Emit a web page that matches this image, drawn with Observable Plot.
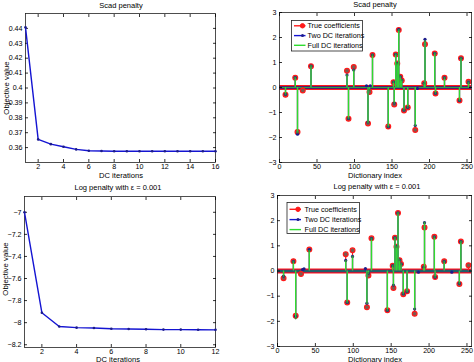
<!DOCTYPE html>
<html><head><meta charset="utf-8">
<script src="https://cdn.jsdelivr.net/npm/d3@7"></script>
<script src="https://cdn.jsdelivr.net/npm/@observablehq/plot@0.6"></script>
<style>
body{margin:0;background:#fff;}
#root{position:relative;width:474px;height:362px;overflow:hidden;font-family:"Liberation Sans",Arial,Helvetica,sans-serif;background:#fff;}
.panel{position:absolute;}
#overlay{position:absolute;left:0;top:0;}
</style></head><body><div id="root"></div>
<script>
// ---------- data ----------
const scadIter = [1,2,3,4,5,6,7,8,9,10,11,12,13,14,15,16];
const scadObjective = [0.4407,0.3655,0.3623,0.3606,0.3588,0.3579,0.3577,0.3576,0.3576,0.3576,0.3576,0.3576,0.3576,0.3576,0.3576,0.3576];
const logIter = [1,2,3,4,5,6,7,8,9,10,11,12];
const logObjective = [-7.0,-7.91,-8.035,-8.045,-8.048,-8.055,-8.057,-8.06,-8.063,-8.063,-8.064,-8.065];

const trueIndex = [8,21,24,31,42,90,92,99,118,120,124,145,152,153,155,157,159,161,163,166,171,181,193,194,207,208,220,240,242,252];
const trueValue = [-0.29,0.39,-1.78,-0.12,0.85,0.67,-1.25,0.82,-1.44,-0.18,1.3,-1.56,0.21,-0.68,1.32,0.96,2.3,0.43,0.28,-0.92,-0.8,-1.7,0.17,1.73,1.36,-0.24,0.39,-0.52,1.17,0.23];

const scadTwoIndex = [8,21,24,42,90,92,99,116,118,121,124,145,152,153,155,157,159,161,163,166,171,181,184,193,194,207,208,220,240,242,252];
const scadTwoValue = [-0.27,0.4,-1.87,0.86,0.5,-1.24,0.7,0.07,-1.38,0.07,1.3,-1.57,0.22,-0.62,1.33,0.96,2.32,0.43,0.3,-0.9,-0.79,-1.52,-0.04,0.17,1.93,1.37,-0.23,0.39,-0.52,1.17,0.2];
const scadFullIndex = [8,21,24,42,90,92,99,118,120,124,145,152,153,155,157,159,161,163,166,171,181,193,194,207,208,220,240,242,252];
const scadFullValue = [-0.27,0.4,-1.8,0.86,0.49,-1.24,0.69,-1.4,-0.1,1.3,-1.57,0.22,-0.62,1.33,0.96,2.3,0.43,0.3,-0.9,-0.79,-1.52,0.17,1.85,1.37,-0.23,0.39,-0.52,1.17,0.2];

const logTwoIndex = [8,21,24,33,35,42,90,92,99,116,118,120,124,145,152,153,155,157,159,161,163,166,171,181,186,193,194,207,208,220,230,240,242];
const logTwoValue = [-0.2,0.37,-1.8,0.06,0.09,0.85,0.42,-1.25,0.58,0.1,-1.28,-0.09,1.29,-1.56,0.2,-0.56,1.32,0.96,2.3,0.43,0.27,-0.9,-0.82,-1.51,-0.05,0.15,1.92,1.35,-0.24,0.37,-0.05,-0.49,1.16];
const logFullIndex = [8,21,24,42,90,92,99,118,120,124,145,152,153,155,157,159,161,163,166,171,181,193,194,207,208,220,240,242];
const logFullValue = [-0.2,0.37,-1.88,0.8,0.4,-1.25,0.57,-1.28,-0.09,1.29,-1.56,0.2,-0.56,1.32,0.96,2.3,0.43,0.27,-0.9,-0.82,-1.51,0.15,1.92,1.35,-0.24,0.37,-0.49,1.16];

const scadYTicks = [0.36,0.37,0.38,0.39,0.40,0.41,0.42,0.43,0.44];
const scadXTicks = [2,4,6,8,10,12,14,16];
const logYTicks = [-8.2,-8,-7.8,-7.6,-7.4,-7.2,-7];
const logXTicks = [2,4,6,8,10,12];
const stemXTicks = [0,50,100,150,200,250];
const stemYTicks = [-3,-2,-1,0,1,2,3];

const legendLabels = ["True coefficients","Two DC iterations","Full DC iterations"];

// ---------- styles ----------
const BLUE = "#1414d2", RED = "#ff1a1a", GREEN = "#2fdc2f", NAVY = "#1c1c8a";
const FONT = '"Liberation Sans", Arial, Helvetica, sans-serif';
const fmt = d3.format("~g");
const T = 3;

function boxAxes(xt, yt) {
  return [
    Plot.frame({stroke: "#222", strokeWidth: 0.8}),
    Plot.axisX(xt, {anchor: "bottom", tickSize: T, dy: -T, tickFormat: () => "", label: null, strokeWidth: 0.8}),
    Plot.axisX(xt, {anchor: "top", tickSize: T, dy: T, tickFormat: () => "", label: null, strokeWidth: 0.8}),
    Plot.axisY(yt, {anchor: "left", tickSize: T, dx: T, tickFormat: () => "", label: null, strokeWidth: 0.8}),
    Plot.axisY(yt, {anchor: "right", tickSize: T, dx: -T, tickFormat: () => "", label: null, strokeWidth: 0.8}),
    Plot.axisX(xt, {anchor: "bottom", tickSize: 0, tickPadding: 1.5, tickFormat: fmt, label: null}),
    Plot.axisY(yt, {anchor: "left", tickSize: 0, tickPadding: 3, tickFormat: fmt, label: null})
  ];
}

function place(svg, left, top) {
  svg.classList.add("panel");
  svg.style.left = left + "px";
  svg.style.top = top + "px";
  document.getElementById("root").appendChild(svg);
}

const style = {fontSize: "7.1px", fontFamily: FONT, background: "transparent", color: "#000", overflow: "visible"};

function linePanel(xs, ys, xDomain, yDomain, xt, yt, m) {
  const data = xs.map((x, k) => ({x, y: ys[k]}));
  return Plot.plot({
    width: 237, height: 181,
    marginLeft: m[0], marginRight: m[1], marginTop: m[2], marginBottom: m[3],
    x: {domain: xDomain}, y: {domain: yDomain},
    style,
    marks: [
      ...boxAxes(xt, yt),
      Plot.line(data, {x: "x", y: "y", stroke: BLUE, strokeWidth: 1.4}),
      Plot.dot(data, {x: "x", y: "y", r: 1.3, fill: NAVY, stroke: "none"})
    ]
  });
}

function stemPanel(tIdx, tVal, aIdx, aVal, bIdx, bVal, m) {
  const tr = tIdx.map((x, k) => ({x, v: tVal[k]}));
  const two = aIdx.map((x, k) => ({x, v: aVal[k]}));
  const full = bIdx.map((x, k) => ({x, v: bVal[k]}));
  return Plot.plot({
    width: 237, height: 181,
    marginLeft: m[0], marginRight: m[1], marginTop: m[2], marginBottom: m[3],
    x: {domain: [0, 256]}, y: {domain: [-3, 3]},
    style,
    marks: [
      Plot.ruleY([0], {stroke: RED, strokeWidth: 5}),
      Plot.ruleY([0], {stroke: NAVY, strokeWidth: 2.6}),
      Plot.ruleY([0], {stroke: GREEN, strokeWidth: 0.7}),
      Plot.ruleX(tr, {x: "x", y1: 0, y2: "v", stroke: RED, strokeWidth: 1.2}),
      Plot.dot(tr, {x: "x", y: "v", r: 2.4, stroke: RED, strokeWidth: 1.2, fill: "#7a5a50"}),
      Plot.ruleX(two, {x: "x", y1: 0, y2: "v", stroke: BLUE, strokeWidth: 1.2}),
      Plot.dot(two, {x: "x", y: "v", r: 1.6, fill: NAVY, stroke: "none"}),
      Plot.ruleX(full, {x: "x", y1: 0, y2: "v", stroke: GREEN, strokeWidth: 1.4}),
      Plot.dot(full, {x: "x", y: "v", r: 1.1, fill: "#3a8a3a", stroke: "none"}),
      ...boxAxes(stemXTicks, stemYTicks)
    ]
  });
}

place(linePanel(scadIter, scadObjective, [1, 16], [0.35, 0.45], scadXTicks, scadYTicks, [25, 22, 13, 19]), 0, 0);
place(stemPanel(trueIndex, trueValue, scadTwoIndex, scadTwoValue, scadFullIndex, scadFullValue, [42, 3, 12, 19]), 237, 0);
place(linePanel(logIter, logObjective, [1, 12], [-8.225, -6.857], logXTicks, logYTicks, [24, 22, 15, 15]), 0, 181);
place(stemPanel(trueIndex, trueValue, logTwoIndex, logTwoValue, logFullIndex, logFullValue, [40, 3, 14, 16]), 237, 181);

// ---------- overlay: titles, axis labels, legends ----------
const ns = "http://www.w3.org/2000/svg";
const ov = document.createElementNS(ns, "svg");
ov.setAttribute("id", "overlay");
ov.setAttribute("width", 474); ov.setAttribute("height", 362);
ov.style.fontFamily = FONT;
document.getElementById("root").appendChild(ov);

function txt(s, x, y, size, rot) {
  const t = document.createElementNS(ns, "text");
  t.setAttribute("x", x); t.setAttribute("y", y);
  t.setAttribute("text-anchor", "middle");
  t.setAttribute("dominant-baseline", "central");
  t.setAttribute("font-size", size);
  t.setAttribute("fill", "#000");
  if (rot) t.setAttribute("transform", `rotate(${rot} ${x} ${y})`);
  t.textContent = s;
  ov.appendChild(t);
  return t;
}
function el(name, attrs) {
  const e = document.createElementNS(ns, name);
  for (const k in attrs) e.setAttribute(k, attrs[k]);
  ov.appendChild(e);
  return e;
}

txt("Scad penalty", 121, 5, 7.5);
txt("DC iterations", 121, 175.5, 7.6);
txt("Objective value", 6, 88, 7.8, -90);
txt("Scad penalty", 375, 4, 7.5);
txt("Dictionary index", 375, 175.5, 7.6);

txt("Log penalty with \u03B5 = 0.001", 118, 187, 7.5);
txt("DC iterations", 118, 359, 7.6);
txt("Objective value", 5.5, 269, 7.8, -90);
txt("Log penalty with \u03B5 = 0.001", 377, 186, 7.5);
txt("Dictionary index", 375, 359, 7.6);

function legend(x, y, w, h, rows, textX) {
  el("rect", {x, y, width: w, height: h, fill: "#fff", stroke: "#222", "stroke-width": 0.8});
  const cols = [RED, BLUE, GREEN];
  rows.forEach((ry, k) => {
    el("line", {x1: x + 2.5, x2: x + 14, y1: ry, y2: ry, stroke: cols[k], "stroke-width": 1.4});
    if (k === 0) el("circle", {cx: x + 11, cy: ry, r: 2.2, fill: RED, stroke: RED, "stroke-width": 1});
    if (k === 1) el("circle", {cx: x + 11, cy: ry, r: 1.5, fill: NAVY});
    const t = txt(legendLabels[k], textX, ry, 7.2);
    t.setAttribute("text-anchor", "start");
  });
}
legend(291.5, 20.5, 71, 30.5, [25.8, 35.6, 45.3], 307.5);
legend(287, 202.5, 72.5, 31, [209.3, 219.6, 229.6], 304.5);
</script>
</body></html>
